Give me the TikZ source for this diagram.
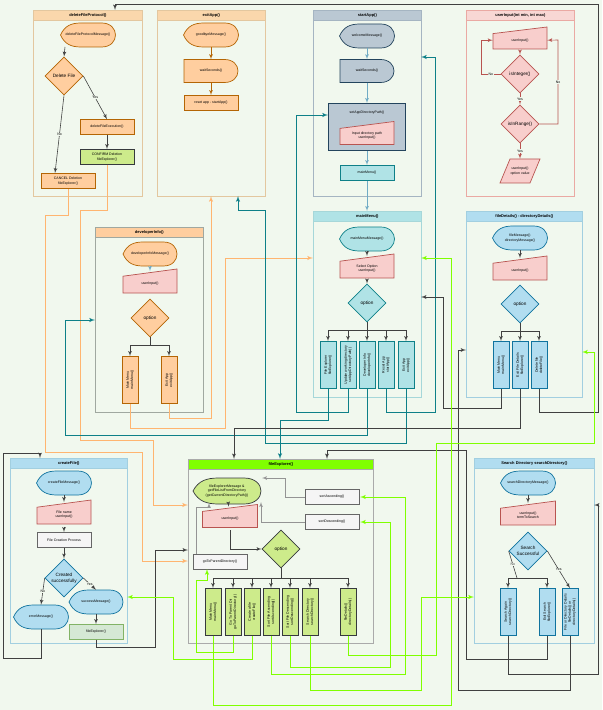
\documentclass[tikz,border=0pt]{standalone}
\usepackage{fontspec}
\setmainfont{Liberation Sans}
\usetikzlibrary{shapes.geometric}
\usetikzlibrary{arrows}
\usetikzlibrary{positioning}
\usetikzlibrary{calc}

\definecolor{pagebg}{HTML}{F1F8EE}
\definecolor{cOrF}{HTML}{FFCE9F}\definecolor{cOrS}{HTML}{B46504}
\definecolor{cOrH}{HTML}{FAD7AC}\definecolor{cOrB}{HTML}{E3C79F}
\definecolor{cDevB}{HTML}{A0A8A0}
\definecolor{cGbF}{HTML}{BAC8D3}\definecolor{cGbS}{HTML}{23445D}\definecolor{cGbB}{HTML}{A5B5C2}
\definecolor{cPkF}{HTML}{F8CECC}\definecolor{cPkS}{HTML}{B85450}
\definecolor{cPkH}{HTML}{F8D7D4}\definecolor{cPkB}{HTML}{EAA9A3}
\definecolor{cCyF}{HTML}{B0E3E6}\definecolor{cCyS}{HTML}{0E8088}\definecolor{cCyB}{HTML}{A6D7D9}
\definecolor{cBlF}{HTML}{B1DDF0}\definecolor{cBlS}{HTML}{10739E}\definecolor{cBlB}{HTML}{A2CFE0}
\definecolor{cGrF}{HTML}{CDEB8B}\definecolor{cGrS}{HTML}{36393D}
\definecolor{cBgH}{HTML}{80FF00}\definecolor{cBgB}{HTML}{AAAAAA}
\definecolor{cLgF}{HTML}{D5E8D4}\definecolor{cLgS}{HTML}{82B366}
\definecolor{cGyF}{HTML}{F5F5F5}\definecolor{cGyS}{HTML}{666666}
\definecolor{cLO}{HTML}{FFB570}\definecolor{cLT}{HTML}{0E8088}
\definecolor{cLG}{HTML}{80FF00}\definecolor{cLK}{HTML}{404040}

% swim lane with header
\newcommand{\lane}[8]{%
  \draw[draw=#7, line width=0.6pt] (#2,#3) rectangle (#4,#5);
  \node[draw=#7, fill=#6, line width=0.6pt, anchor=north west, inner sep=0,
    minimum width={(#4-#2)*0.03cm}, minimum height=0.3cm,
    font=\bfseries\fontsize{3.4}{4}\selectfont] (#1) at (#2,#3) {#8};}
% display shape (messages)
\newcommand{\msgnode}[7]{%
  \path[#6] ({#2-#4/2},#3) .. controls ({#2-#4*0.42},{#3-#5*0.4}) and ({#2-#4*0.3},{#3-#5/2}) .. ({#2-#4*0.12},{#3-#5/2})
    -- ({#2+#4/4},{#3-#5/2}) .. controls ({#2+#4*0.583},{#3-#5/2}) and ({#2+#4*0.583},{#3+#5/2}) .. ({#2+#4/4},{#3+#5/2})
    -- ({#2-#4*0.12},{#3+#5/2}) .. controls ({#2-#4*0.3},{#3+#5/2}) and ({#2-#4*0.42},{#3+#5*0.4}) .. ({#2-#4/2},#3) -- cycle;
  \node[txt, minimum width={#4*0.03cm}, minimum height={#5*0.03cm}] (#1) at (#2,#3) {#7};}
% manual input
\newcommand{\manin}[7]{%
  \path[#6] ({#2-#4/2},{#3-#5*0.2}) -- ({#2+#4/2},{#3-#5/2}) -- ({#2+#4/2},{#3+#5/2}) -- ({#2-#4/2},{#3+#5/2}) -- cycle;
  \node[txt, minimum width={#4*0.03cm}, minimum height={#5*0.03cm}] (#1) at (#2,{#3+#5*0.1}) {#7};}
% delay
\newcommand{\delaynode}[7]{%
  \path[#6] ({#2-#4/2},{#3-#5/2}) -- ({#2+#4/4},{#3-#5/2}) .. controls ({#2+#4*0.583},{#3-#5/2}) and ({#2+#4*0.583},{#3+#5/2}) .. ({#2+#4/4},{#3+#5/2}) -- ({#2-#4/2},{#3+#5/2}) -- cycle;
  \node[txt, minimum width={#4*0.03cm}, minimum height={#5*0.03cm}] (#1) at (#2,#3) {#7};}
% data (parallelogram)
\newcommand{\paranode}[7]{%
  \path[#6] ({#2-#4/2},{#3+#5/2}) -- ({#2-#4/4},{#3-#5/2}) -- ({#2+#4/2},{#3-#5/2}) -- ({#2+#4/4},{#3+#5/2}) -- cycle;
  \node[txt, minimum width={#4*0.03cm}, minimum height={#5*0.03cm}] (#1) at (#2,#3) {#7};}

\begin{document}
\begin{tikzpicture}[x=0.03cm, y=-0.03cm, > = latex']
\tikzset{
  txt/.style = {inner sep = 0, align = center, font = \fontsize{3}{3.6}\selectfont},
  box/.style = {txt, draw, minimum width = 1.62cm, minimum height = 0.45cm},
  vbox/.style = {txt, draw, rotate = 90, minimum width = 1.41cm, minimum height = 0.48cm},
  dia/.style = {txt, draw, diamond, minimum width = 1.14cm, minimum height = 1.14cm, font = \fontsize{4}{4.8}\selectfont},
  lbl/.style = {txt, fill = pagebg, inner sep = 0.4pt},
  sOr/.style = {fill = cOrF, draw = cOrS, line width = 0.6pt},
  sGb/.style = {fill = cGbF, draw = cGbS, line width = 0.6pt},
  sPk/.style = {fill = cPkF, draw = cPkS, line width = 0.6pt},
  sCy/.style = {fill = cCyF, draw = cCyS, line width = 0.6pt},
  sBl/.style = {fill = cBlF, draw = cBlS, line width = 0.6pt},
  sGr/.style = {fill = cGrF, draw = cGrS, line width = 0.6pt},
  sLg/.style = {fill = cLgF, draw = cLgS, line width = 0.6pt},
  sGy/.style = {fill = cGyF, draw = cGyS, line width = 0.6pt},
  arrK/.style = {->, draw = cLK, line width = 0.5pt},
  arrO/.style = {->, draw = cOrS, line width = 0.5pt},
  arrB/.style = {->, draw = cBlS!60, line width = 0.5pt},
  arrP/.style = {->, draw = cPkS, line width = 0.5pt},
  arrG/.style = {->, draw = cGyS!70, line width = 0.5pt},
  linO/.style = {->, draw = cLO, line width = 0.7pt},
  linT/.style = {->, draw = cLT, line width = 0.7pt},
  linK/.style = {->, draw = cLK, line width = 0.6pt},
  linGr/.style = {->, draw = cLG, line width = 0.7pt},
}
\fill[pagebg] (0,0) rectangle (602,710);
\useasboundingbox (0,0) rectangle (602,710);

% deleteFileProtocol
\lane{hDel}{33}{10}{142}{196}{cOrH}{cOrB}{deleteFileProtocol()}
\msgnode{delMsg}{88}{35}{55}{24}{sOr}{deleteFileProtocolMessage()}
\node [dia, sOr] (delDia) at (64,76) {Delete File};
\node [box, sOr] (delExec) at (107,127) {deleteFileExecution()};
\node [box, sGr] (delConf) at (107,157) {CONFIRM Deletion\\fileExplorer()};
\node [box, sOr] (delCancel) at (68,181) {CANCEL Deletion\\fileExplorer()};
\draw [arrK] (65,47) -- (delDia.north);
\draw [arrK] (delDia.east) -- node[lbl]{Yes} (delExec.north);
\draw [arrK] (delDia.south) -- node[lbl]{No} ([xshift=-0.39cm]delCancel.north);
\draw [arrK] (delExec) -- (delConf);

% exitApp
\lane{hExit}{157}{10}{265}{196}{cOrH}{cOrB}{exitApp()}
\msgnode{exMsg}{211}{35}{55}{24}{sOr}{goodbyeMessage()}
\delaynode{exWait}{211}{71}{54}{23}{sOr}{waitSeconds()}
\node [box, sOr] (exReset) at (211,103) {reset app - startApp()};
\draw [arrO] (exMsg) -- (exWait);
\draw [arrO] (exWait) -- (exReset);

% startApp
\lane{hStart}{313}{10}{421}{196}{cGbF}{cGbB}{startApp()}
\msgnode{stMsg}{367}{36}{55}{24}{sGb}{welcomeMessage()}
\delaynode{stWait}{367}{71}{54}{23}{sGb}{waitSeconds()}
\node [sGb, line width = 0.8pt, minimum width = 2.31cm, minimum height = 1.41cm, inner sep = 0] (stSet) at (367,127) {};
\node [txt] (stSetLbl) at (367,113) {setAppDirectoryPath()};
\manin{stInput}{367}{133}{54}{23}{sPk}{Input directory path\\userInput()}
\node [box, sCy] (stMain) at (367,173) {mainMenu()};
\draw [arrB] (stMsg) -- (stWait);
\draw [arrB] (stWait) -- (stSet);
\draw [arrB] (stSet) -- (stMain);
\draw [arrB] (stMain.south) -- (367,211);

% userInput
\lane{hUin}{466}{10}{574}{196}{cPkH}{cPkB}{userInput(int min, int max)}
\manin{uiIn}{520}{38}{54}{22}{sPk}{userInput()}
\node [dia, sPk] (uiInt) at (520,74) {isInteger()};
\node [dia, sPk] (uiRng) at (520,124) {isInRange()};
\paranode{uiOut}{520}{171}{40}{24}{sPk}{userInput()\\option value}
\draw [arrP] (uiIn) -- (uiInt);
\draw [arrP] (uiInt.west) -- node[lbl]{No} (481,74) |- (uiIn.west);
\draw [arrP] (uiInt) -- node[lbl]{Yes} (uiRng);
\draw [arrP] (uiRng.east) -- (558,124) -- node[lbl]{No} (558,40) -- (uiIn.east);
\draw [arrP] (uiRng) -- node[lbl]{Yes} (uiOut);

% mainMenu
\lane{hMain}{313}{211}{421}{397}{cCyF}{cCyB}{mainMenu()}
\msgnode{mmMsg}{367}{239}{55}{24}{sCy}{mainMenuMessage()}
\manin{mmIn}{367}{266}{54}{24}{sPk}{Select Option\\userInput()}
\node [dia, sCy] (mmOpt) at (367,303) {option};
\node [vbox, sCy] (mmFex) at (328,365) {File Explorer\\fileExplorer()};
\node [vbox, sCy] (mmUpd) at (348,365) {Update working directory\\setAppDirectoryPath()};
\node [vbox, sCy] (mmDev) at (367,365) {Developer Info\\developerInfo()};
\node [vbox, sCy] (mmRst) at (386,365) {Reset App\\startApp()};
\node [vbox, sCy] (mmExit) at (406,365) {Exit App\\exitApp()};
\draw [arrK] (mmMsg) -- (mmIn);
\draw [arrK] (mmIn) -- (mmOpt);
\coordinate (mmBus) at (367,330);
\draw [cLK, line width = 0.5pt] (mmOpt.south) -- (mmBus);
\foreach \n in {mmFex, mmUpd, mmDev, mmRst, mmExit}
  \draw [arrK] (mmBus) -| (\n.east);

% fileDetails
\lane{hDet}{466}{211}{582}{397}{cBlF}{cBlB}{fileDetails() - directoryDetails()}
\msgnode{fdMsg}{520}{238}{55}{24}{sBl}{fileMessage()\\directoryMessage()}
\manin{fdIn}{520}{268}{54}{24}{sPk}{userInput()}
\node [dia, sBl] (fdOpt) at (520,304) {option};
\node [vbox, sBl] (fdMain) at (501,365) {Main Menu\\mainMenu()};
\node [vbox, sBl] (fdExit) at (520,365) {Exit File Details\\fileExplorer()};
\node [vbox, sBl] (fdDel) at (539,365) {Delete file\\deleteFile()};
\draw [arrK] (fdMsg) -- (fdIn);
\coordinate (fdBus) at (520,331);
\draw [cLK, line width = 0.5pt] (fdOpt.south) -- (fdBus);
\foreach \n in {fdMain, fdExit, fdDel}
  \draw [arrK] (fdBus) -| (\n.east);

% developerInfo
\lane{hDev}{95}{227}{203}{412}{cOrF}{cDevB}{developerInfo()}
\msgnode{dvMsg}{150}{254}{54}{24}{sOr}{developerInfoMessage()}
\manin{dvIn}{150}{281}{54}{24}{sPk}{userInput()}
\node [dia, sOr] (dvOpt) at (150,318) {option};
\node [vbox, sOr] (dvMain) at (130,380) {Main Menu\\mainMenu()};
\node [vbox, sOr] (dvExit) at (169,380) {Exit App\\exitApp()};
\draw [arrB] (dvMsg) -- (dvIn);
\coordinate (dvBus) at (150,345);
\draw [cLK, line width = 0.5pt] (dvOpt.south) -- (dvBus);
\foreach \n in {dvMain, dvExit}
  \draw [arrK] (dvBus) -| (\n.east);

% createFile
\lane{hCr}{10}{458}{127}{643}{cBlF}{cBlB}{createFile()}
\msgnode{cfMsg}{64}{483}{55}{24}{sBl}{createFileMessage()}
\manin{cfIn}{64}{512}{54}{24}{sPk}{File name\\userInput()}
\node [box, sGy] (cfProc) at (64,540) {File Creation Process};
\node [dia, sBl] (cfDia) at (64,578) {Created\\successfully};
\msgnode{cfOk}{96}{602}{54}{24}{sBl}{successMessage()}
\msgnode{cfErr}{41}{617}{55}{24}{sBl}{errorMessage()}
\node [box, sLg] (cfFex) at (96,632) {fileExplorer()};
\draw [arrK] (cfMsg) -- (cfIn);
\draw [arrK] (cfIn) -- (cfProc);
\draw [arrK] (cfProc) -- (cfDia);
\draw [arrK] (cfDia.west) -- node[lbl]{No} (cfErr.north);
\draw [arrK] (cfDia.east) -- node[lbl]{Yes} (cfOk.north);
\draw [arrK] (cfOk) -- (cfFex);

% fileExplorer
\lane{hFex}{188}{459}{373}{643}{cBgH}{cBgB}{fileExplorer()}
\msgnode{feMsg}{227}{491}{68}{26}{sGr}{fileExplorerMessage \&\\getFileListFromDirectory\\(getCurrentDirectoryPath())}
\manin{feIn}{230}{516}{55}{23}{sPk}{userInput()}
\node [dia, sGr] (feOpt) at (281,549) {option};
\node [box, sGy] (feAsc) at (332,497) {sortAscending()};
\node [box, sGy] (feDesc) at (332,522) {sortDescending()};
\node [box, sGy] (feUp) at (220,562) {goToParentDirectory()};
\node [vbox, sGr] (feMain) at (213,612) {Main Menu\\mainMenu()};
\node [vbox, sGr] (fePar) at (233,612) {Go To Parent Dir\\goToParentDirectory()};
\node [vbox, sGr] (feCre) at (252,612) {Create a file\\createFile()};
\node [vbox, sGr] (feSa) at (271,612) {Sort File Ascending\\sortAscending()};
\node [vbox, sGr] (feSd) at (290,612) {Sort File Descending\\sortDescending()};
\node [vbox, sGr] (feSr) at (310,612) {Search Directory\\searchDirectory()};
\node [vbox, sGr] (feDet) at (348,612) {fileDetails()\\directoryDetails()};
\draw [arrK] (feMsg) -- (feIn);
\draw [arrK] (feIn.south) |- (feOpt.west);
\draw [arrG] (feAsc.west) -| (285,478) -- (262,478);
\draw [arrG] (feDesc.west) -| (261,502);
\draw [arrG] (196,554) -- (196,507) -- (209,507) -- (209,503);
\coordinate (feBus) at (281,578);
\draw [cLK, line width = 0.5pt] (feOpt.south) -- (feBus);
\foreach \n in {feMain, fePar, feCre, feSa, feSd, feSr, feDet}
  \draw [arrK] (feBus) -| (\n.east);

% searchDirectory
\lane{hSd}{474}{458}{594}{643}{cBlF}{cBlB}{Search Directory searchDirectory()}
\msgnode{sdMsg}{528}{483}{55}{24}{sBl}{searchDirectoryMessage()}
\manin{sdIn}{528}{513}{55}{24}{sPk}{userInput()\\termToSearch}
\node [dia, sBl] (sdDia) at (528,551) {Search\\Successful};
\node [vbox, sBl] (sdAgain) at (508,612) {Search Again\\searchDirectory()};
\node [vbox, sBl] (sdExit) at (547,612) {Exit Search\\fileExplorer()};
\node [vbox, sBl] (sdDet) at (570,612) {File or Directory Details\\fileDetails() or\\directoryDetails()};
\draw [arrK] (sdMsg) -- (sdIn);
\coordinate (sdBus) at (517,578);
\draw [cLK, line width = 0.5pt] (sdDia.west) -- node[lbl]{No} (sdBus);
\draw [arrK] (sdBus) -| (sdAgain.east);
\draw [arrK] (sdBus) -| (sdExit.east);
\draw [arrK] (sdDia.east) -- node[lbl]{Yes} (sdDet.east);

% links between lanes
\draw [linO] (delCancel.south) -- (68,215) -- (45,215) -- (45,452) -- (142,452) -- (142,561) -- (188,561);
\draw [linO] (delConf.south) -- (107,210) -- (80,210) -- (80,440) -- (153,440) -- (153,505) -- (188,505);
\draw [linO] (dvMain.west) -- (130,428) -- (225,428) -- (225,258) -- (313,258);
\draw [linO] (dvExit.west) -- (169,418) -- (211,418) -- (211,196);
\draw [linT] (mmFex.west) -- (328,420) -- (280,420) -- (280,459);
\draw [linT] (mmUpd.west) -- (348,412) -- (296,412) -- (296,115) -- (328,115);
\draw [linT] (mmDev.west) -- (367,435) -- (65,435) -- (65,320) -- (95,320);
\draw [linT] (mmRst.west) -- (386,412) -- (435,412) -- (435,57) -- (421,57);
\draw [linT] (mmExit.west) -- (406,443) -- (265,443) -- (265,210) -- (238,210) -- (238,196);
\draw [linK] (fdMain.west) -- (501,408) -- (443,408) -- (443,297) -- (421,297);
\draw [linK] (fdExit.west) -- (520,428) -- (234,428) -- (234,459);
\draw [linK] (fdDel.west) -- (539,412) -- (598,412) -- (598,4) -- (115,4) -- (115,10);
\draw [linK] (cfErr.south) -- (41,658) -- (3,658) -- (3,453) -- (40,453) -- (40,458);
\draw [linK] (cfFex.south) -- (96,647) -- (155,647) -- (155,550) -- (188,550);
\draw [linK] (sdAgain.west) -- (508,674) -- (598,674) -- (598,505) -- (594,505);
\draw [linK] (sdExit.west) -- (547,659) -- (466,659) -- (466,450) -- (327,450) -- (327,459);
\draw [linK] (sdDet.west) -- (570,690) -- (458,690) -- (458,350) -- (466,350);
\draw [linGr] (feMain.west) -- (213,705) -- (451,705) -- (451,258) -- (421,258);
\draw [linGr] (fePar.west) -- (233,652) -- (196,652) -- (196,580) -- (207,580) -- (207,569);
\draw [linGr] (feCre.west) -- (252,659) -- (173,659) -- (173,597) -- (127,597);
\draw [linGr] (feSa.west) -- (271,674) -- (405,674) -- (405,497) -- (360,497);
\draw [linGr] (feSd.west) -- (290,667) -- (390,667) -- (390,522) -- (360,522);
\draw [linGr] (feSr.west) -- (310,690) -- (421,690) -- (421,597) -- (474,597);
\draw [linGr] (feDet.west) -- (348,655) -- (436,655) -- (436,443) -- (594,443) -- (594,352) -- (582,352);
\end{tikzpicture}
\end{document}
